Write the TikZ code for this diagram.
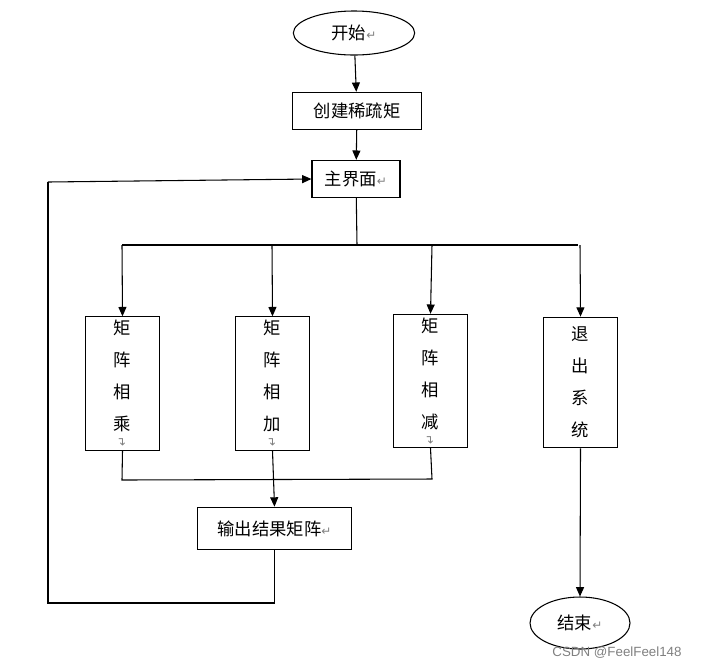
\documentclass[tikz,border=0pt]{standalone}
\usepackage{fontspec}
\setmainfont{Liberation Sans}
\newfontfamily\cjk{Noto Sans CJK SC}
\newfontfamily\djv{DejaVu Sans}
\usetikzlibrary{shapes.geometric,arrows.meta}
\newcommand{\pmk}{{\djv\color{gray}\fontsize{9}{9}\selectfont ↵}}
\newcommand{\rpmk}{\rotatebox{90}{\pmk}}
\begin{document}
\begin{tikzpicture}[x=0.75pt,y=-0.75pt,
  box/.style={draw,thick,inner sep=0pt,font=\cjk\fontsize{13}{13}\selectfont},
  ell/.style={draw,thick,ellipse,inner sep=0pt,font=\cjk\fontsize{13}{13}\selectfont},
  vbox/.style={draw,thick,minimum width=56pt,inner sep=0pt,font=\cjk\fontsize{13}{24}\selectfont,align=center},
  arr/.style={thick,-{Triangle[length=7pt,width=6pt]}},
  ln/.style={thick}]
\useasboundingbox (0,0) rectangle (709,669);
\node[ell,minimum width=91pt,minimum height=33pt] (start) at (354,33) {开始\pmk};
\node[box,minimum width=97pt,minimum height=28pt] (create) at (357,111) {创建稀疏矩};
\node[box,minimum width=66pt,minimum height=28pt] (main) at (356,179) {主界面\pmk};
\node[vbox,minimum height=100pt] (mul) at (122.5,383.5) {矩\\阵\\相\\乘\\[-12pt]\rpmk};
\node[vbox,minimum height=100pt] (add) at (272.5,383.5) {矩\\阵\\相\\加\\[-12pt]\rpmk};
\node[vbox,minimum height=100pt] (sub) at (430.5,381) {矩\\阵\\相\\减\\[-12pt]\rpmk};
\node[vbox,minimum height=98pt] (quit) at (580.5,382.5) {退\\出\\系\\统};
\node[box,minimum width=116pt,minimum height=32pt] (out) at (274.5,528.5) {输出结果矩阵\pmk};
\node[ell,minimum width=75pt,minimum height=39pt] (end) at (580,623) {结束\pmk};
\node[font=\fontsize{10}{10}\selectfont,text=gray] (wm) at (617,653) {CSDN @FeelFeel148};
\coordinate (j) at (357,245);
\coordinate (hl) at (122,245);
\coordinate (hr) at (578,245);
\coordinate (b1) at (122,480);
\coordinate (b2) at (432,479);
\coordinate (r1) at (48,603);
\coordinate (r2) at (48,182);
\draw[arr] (start) -- (create);
\draw[arr] (create) -- (main);
\draw[ln] (main) -- (j);
\draw[ln] (hl) -- (hr);
\draw[arr] (hl) -- (mul.north);
\draw[arr] (272,245) -- (add.north);
\draw[arr] (432,245) -- (sub.north);
\draw[arr] (580,245) -- (quit.north);
\draw[ln] (mul.south) -- (b1) -- (b2) -- (sub.south);
\draw[arr] (add.south) -- (out.north);
\draw[arr] (quit.south) -- (end.north);
\draw[ln] (out.south) |- (r1) -- (r2);
\draw[arr] (r2) -- (main.west);
\end{tikzpicture}
\end{document}
